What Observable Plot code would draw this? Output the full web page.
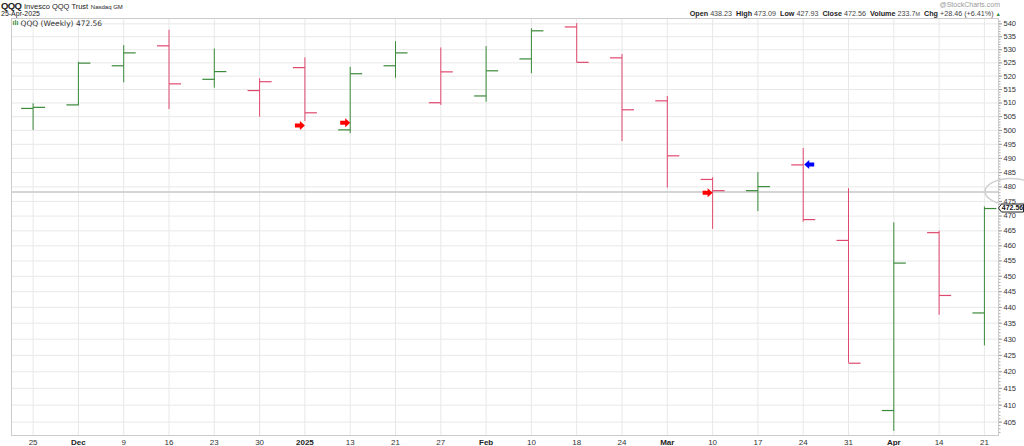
<!DOCTYPE html>
<html><head><meta charset="utf-8">
<script src="https://cdn.jsdelivr.net/npm/d3@7"></script>
<script src="https://cdn.jsdelivr.net/npm/@observablehq/plot@0.6"></script>
<style>
body{margin:0;background:#fff;font-family:"Liberation Sans",Arial,sans-serif;}
#hdr{position:relative;width:1024px;height:18px;color:#222;}
#hdr div{position:absolute;white-space:nowrap;line-height:1;}
#chart svg{display:block;}
</style></head><body>
<div id="hdr">
  <div style="left:1px;top:1.5px;font-size:9.5px;line-height:0.9;"><b style="letter-spacing:-0.6px">QQQ</b> <span style="font-size:7.5px">Invesco QQQ Trust</span> <span style="font-size:6px">Nasdaq GM</span></div>
  <div style="left:1px;top:10.6px;font-size:7px;line-height:0.85;">25-Apr-2025</div>
  <div style="right:24px;top:2.4px;font-size:7px;color:#999;line-height:0.85;">@StockCharts.com</div>
  <div id="ohlc" style="right:23px;top:10.6px;font-size:7.2px;line-height:0.85;"></div>
</div>
<div id="chart"></div>
<script>
// ---- data ----
const weeks = ["2024-11-25","2024-12-02","2024-12-09","2024-12-16","2024-12-23","2024-12-30","2025-01-06","2025-01-13","2025-01-21","2025-01-27","2025-02-03","2025-02-10","2025-02-18","2025-02-24","2025-03-03","2025-03-10","2025-03-17","2025-03-24","2025-03-31","2025-04-07","2025-04-14","2025-04-21"];
const xLabels = ["25","Dec","9","16","23","30","2025","13","21","27","Feb","10","18","24","Mar","10","17","24","31","Apr","14","21"];
const boldLabels = ["Dec","2025","Feb","Mar","Apr"];
const opens  = [508.0,509.3,523.9,531.5,518.8,514.6,523.2,500.2,523.9,510.1,512.6,526.5,538.8,526.9,510.8,482.6,478.7,487.7,461.8,408.4,464.4,438.23];
const highs  = [509.7,525.2,531.6,537.5,530.3,519.0,526.9,523.3,533.1,530.7,531.2,538.1,540.1,528.2,512.4,483.2,485.0,493.5,479.4,467.7,464.9,473.09];
const lows   = [500.0,509.0,517.5,507.6,515.5,504.8,503.2,498.8,519.2,509.1,510.3,520.9,525.0,496.0,479.6,465.5,471.5,467.9,422.6,402.3,437.5,427.93];
const closes = [508.4,524.9,528.8,517.1,521.7,517.9,506.4,520.9,528.8,521.6,522.0,537.3,525.2,507.5,490.9,478.7,480.1,468.8,422.6,454.3,443.8,472.56];
const yTicks = [405,410,415,420,425,430,435,440,445,450,455,460,465,470,475,480,485,490,495,500,505,510,515,520,525,530,535,540];
const redArrowWeeks = [6,7,15];
const redArrowLevels = [501.8,502.8,478.0];
const blueArrowWeeks = [17];
const blueArrowLevels = [487.8];
const cursorLevel = 478.2;
const lastClose = 472.56;
const hdrLabels = ["Open","High","Low","Close","Volume","Chg"];
const hdrValues = ["438.23","473.09","427.93","472.56","233.7<span style='font-size:5.5px'>M</span>","+28.46 (+6.41%)"];

// ---- header ----
document.getElementById("ohlc").innerHTML =
  hdrLabels.map((l,k)=>`<b>${l}</b> <span style="color:#444">${hdrValues[k]}</span>`).join("&nbsp; ") +
  ` <span style="color:#3a8a3a;font-size:5.5px">&#9650;</span>`;

// ---- chart ----
const UP = "#3a8a3a", DOWN = "#e0496e";
const bars = weeks.map((w,i)=>({i, open:opens[i], high:highs[i], low:lows[i], close:closes[i],
  color: (i===0 ? closes[i] >= opens[i] : closes[i] >= closes[i-1]) ? UP : DOWN}));
const redArrows = redArrowWeeks.map((i,k)=>({i, v:redArrowLevels[k]}));
const blueArrows = blueArrowWeeks.map((i,k)=>({i, v:blueArrowLevels[k]}));
const idx = d3.range(weeks.length);
const normalIdx = idx.filter(i=>!boldLabels.includes(xLabels[i]));
const boldIdx = idx.filter(i=>boldLabels.includes(xLabels[i]));
const minorTicks = d3.range(402, 542);

const openTick = {draw(c){c.moveTo(-12,0);c.lineTo(0,0);}};
const closeTick = {draw(c){c.moveTo(0,0);c.lineTo(12,0);}};
const arrowR = {draw(c){c.moveTo(-5,-2);c.lineTo(0,-2);c.lineTo(0,-4.5);c.lineTo(5,0);c.lineTo(0,4.5);c.lineTo(0,2);c.lineTo(-5,2);c.closePath();}};
const arrowL = {draw(c){c.moveTo(5,-2);c.lineTo(0,-2);c.lineTo(0,-4.5);c.lineTo(-5,0);c.lineTo(0,4.5);c.lineTo(0,2);c.lineTo(5,2);c.closePath();}};

const plot = Plot.plot({
  width: 1024, height: 428,
  marginTop: 0, marginBottom: 11, marginLeft: 11, marginRight: 26,
  style: {fontFamily: "Liberation Sans, Arial, sans-serif", background: "#fff", color: "#333"},
  x: {type: "linear", domain: [-0.477, 21.311], label: null},
  y: {type: "log", domain: [401.1, 542.1], label: null},
  color: {type: "identity"},
  marks: [
    Plot.gridY(yTicks, {stroke: "#e8e8e8", strokeOpacity: 1}),
    Plot.gridX(idx, {stroke: "#e8e8e8", strokeOpacity: 1}),
    Plot.frame({stroke: "#cccccc"}),
    Plot.ruleY([cursorLevel], {stroke: "#d4d4d4", strokeWidth: 2}),
    Plot.axisY(minorTicks, {anchor: "right", tickSize: 1.5, tickFormat: () => "", stroke: "#aaa", label: null}),
    Plot.axisY(yTicks, {anchor: "right", tickSize: 3, tickPadding: 2, fontSize: 7.5, fill: "#333", stroke: "#999", label: null}),
    Plot.axisX(normalIdx, {anchor: "bottom", tickSize: 0, tickPadding: 4, tickFormat: i => xLabels[i], fontSize: 8, fill: "#333", label: null}),
    Plot.axisX(boldIdx, {anchor: "bottom", tickSize: 0, tickPadding: 4, tickFormat: i => xLabels[i], fontSize: 8, fontWeight: "bold", fill: "#222", label: null}),
    Plot.ruleX(bars, {x: "i", y1: "low", y2: "high", stroke: "color", strokeWidth: 1}),
    Plot.dot(bars, {x: "i", y: "open", symbol: openTick, stroke: "color", fill: "none", strokeWidth: 1.2}),
    Plot.dot(bars, {x: "i", y: "close", symbol: closeTick, stroke: "color", fill: "none", strokeWidth: 1.2}),
    Plot.dot(redArrows, {x: "i", y: "v", symbol: arrowR, fill: "#ff0000", stroke: "none", dx: -5}),
    Plot.dot(blueArrows, {x: "i", y: "v", symbol: arrowL, fill: "#0000ff", stroke: "none", dx: 6}),
    Plot.text(["ılı"], {frameAnchor: "top-left", dx: 1, dy: 2, fontSize: 7, fill: UP, fontWeight: "bold"}),
    Plot.text([`QQQ (Weekly) ${lastClose}`], {frameAnchor: "top-left", dx: 9, dy: 2, fontSize: 7.5, fill: "#333", fontFamily: "DejaVu Sans"})
  ]
});

// cursor ellipse and last-price box, placed through the y scale
const ys = plot.scale("y");
const svg = d3.select(plot);
const cy = ys.apply(cursorLevel);
svg.append("ellipse").attr("cx", 1011).attr("cy", cy).attr("rx", 26).attr("ry", 13)
  .attr("fill", "none").attr("stroke", "#d0d0d0").attr("stroke-width", 1.5);
const py = ys.apply(lastClose);
svg.append("path").attr("d", `M998.5,${py} L1001.5,${py-4} H1023.5 V${py+4} H1001.5 Z`)
  .attr("fill", "#fff").attr("stroke", "#222").attr("stroke-width", 1);
svg.append("text").attr("x", 1012.5).attr("y", py).attr("dy", "0.35em").attr("text-anchor", "middle")
  .attr("font-size", 7).attr("font-weight", "bold").attr("fill", "#111")
  .attr("font-family", "Liberation Sans, Arial, sans-serif").text(lastClose.toFixed(2));

document.getElementById("chart").appendChild(plot);
</script>
</body></html>
